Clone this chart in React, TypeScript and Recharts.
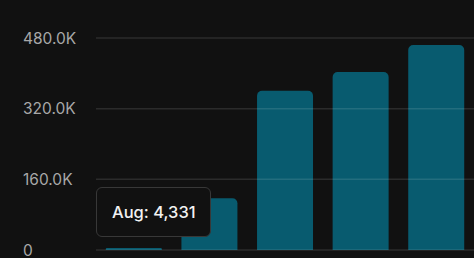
import React from 'react';
import { BarChart, Bar, XAxis, YAxis, Tooltip, ReferenceLine } from 'recharts';

const months = ['Aug', 'Sep', 'Oct', 'Nov', 'Dec'];
const totals = [4331, 117200, 360500, 403100, 464300];
const yTicks = [0, 160000, 320000, 480000];

const data = months.map((month, i) => ({ month, total: totals[i] }));

const formatK = (v: number) => (v === 0 ? '0' : `${(v / 1000).toFixed(1)}K`);

const LeftTick = (props: any) => {
  const { y, payload } = props;
  return (
    <text x={23} y={y} dy={5.5} fill="#a8a8a8" fontSize={15.5} textAnchor="start" fontFamily="Inter, sans-serif">
      {formatK(payload.value)}
    </text>
  );
};

const TipBox = ({ payload, label }: any) => {
  if (!payload || payload.length === 0) return null;
  return (
    <div
      style={{
        background: '#111111',
        border: '1px solid #383838',
        borderRadius: 6,
        padding: '14px 15px',
        color: '#f2f2f2',
        fontFamily: 'Inter, sans-serif',
        fontSize: 16.5,
        fontWeight: 500,
        lineHeight: '20px',
        whiteSpace: 'nowrap',
        boxSizing: 'border-box',
        width: 115,
        height: 50,
      }}
    >
      {`${label}: ${Number(payload[0].value).toLocaleString('en-US')}`}
    </div>
  );
};

export default function App() {
  return (
    <div style={{ position: 'absolute', left: 0, top: 0, width: 474, height: 258, background: '#111111', overflow: 'hidden' }}>
      <BarChart width={474} height={258} data={data} margin={{ top: 38, right: 0, bottom: 8, left: 0 }} barCategoryGap="13%">
        <XAxis dataKey="month" hide />
        <YAxis
          width={96}
          domain={[0, 480000]}
          ticks={yTicks}
          interval={0}
          axisLine={false}
          tickLine={false}
          tick={<LeftTick />}
        />
        <Tooltip
          active
          defaultIndex={0}
          cursor={false}
          position={{ x: 96, y: 187 }}
          content={<TipBox />}
          isAnimationActive={false}
          wrapperStyle={{ outline: 'none' }}
        />
        <Bar dataKey="total" fill="#085b6f" radius={[5, 5, 0, 0]} isAnimationActive={false} activeBar={false} />
        {yTicks.map((t) => (
          <ReferenceLine key={t} y={t} stroke="rgba(255,255,255,0.11)" strokeWidth={1.5} />
        ))}
      </BarChart>
    </div>
  );
}
